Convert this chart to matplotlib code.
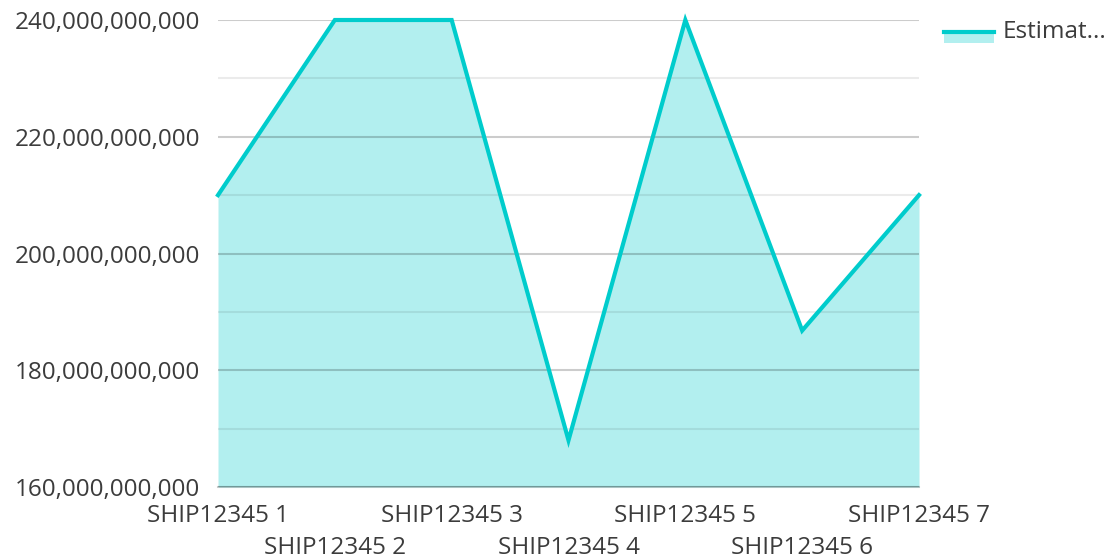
#Area chart of estimated values per ship
import matplotlib.pyplot as plt
from matplotlib.ticker import FuncFormatter, MultipleLocator
from matplotlib.patches import Rectangle
from matplotlib.lines import Line2D

#Data
ships = ['SHIP12345 1', 'SHIP12345 2', 'SHIP12345 3', 'SHIP12345 4',
         'SHIP12345 5', 'SHIP12345 6', 'SHIP12345 7']
estimated = [210e9, 240e9, 240e9, 168e9, 240e9, 186.8e9, 210e9]
series_name = 'Estimat...'

plt.rcParams['font.family'] = ['Open Sans', 'DejaVu Sans']
txt = '#3c3c3c'
line_c = '#00cccc'
fill_c = '#b2efef'
W, H = 1111, 558

fig = plt.figure(figsize=(W/100, H/100), dpi=100)
ax = fig.add_axes([218/W, 1-487/H, (919-218)/W, (487-20)/H])

x = list(range(len(ships)))
ax.fill_between(x, estimated, 160e9, color=fill_c, lw=0, zorder=1)
ax.plot(x, estimated, color=line_c, lw=3, zorder=3, clip_on=False,
        solid_joinstyle='miter')

ax.set_xlim(0, len(ships)-1)
ax.set_ylim(160e9, 240e9)
ax.yaxis.set_major_locator(MultipleLocator(20e9))
ax.yaxis.set_minor_locator(MultipleLocator(10e9))
ax.yaxis.set_major_formatter(FuncFormatter(lambda v, p: '{:,.0f}'.format(v)))
ax.grid(True, which='major', axis='y', color='black', alpha=0.2, lw=1.5, zorder=2)
ax.grid(True, which='minor', axis='y', color='black', alpha=0.08, lw=1.5, zorder=2)
ax.set_axisbelow(False)

ax.set_xticks(x)
ax.set_xticklabels(ships, fontsize=17.5, color=txt)
ax.tick_params(axis='y', labelsize=17.5, labelcolor=txt, length=0, pad=13)
ax.tick_params(axis='x', length=0, pad=12)
ax.tick_params(which='minor', length=0)
# stagger the labels on two rows
for i, tick in enumerate(ax.xaxis.get_major_ticks()):
    if i % 2 == 1:
        tick.set_pad(35)
for s in ['top', 'right', 'left']:
    ax.spines[s].set_visible(False)
ax.spines['bottom'].set_color('black')
ax.spines['bottom'].set_alpha(0.2)
ax.spines['bottom'].set_linewidth(1.5)
ax.spines['bottom'].set_zorder(2)

#Legend: line on top of a fill swatch
fig.add_artist(Rectangle((944/W, 1-43/H), 50/W, 12/H, transform=fig.transFigure,
                         facecolor=fill_c, lw=0))
fig.add_artist(Line2D([944/W, 994/W], [1-31.5/H, 1-31.5/H], transform=fig.transFigure,
                      color=line_c, lw=3))
fig.text(1003/W, 1-32/H, series_name, fontsize=17.5, color=txt, va='center', ha='left')

plt.savefig('out.png', dpi=100)
